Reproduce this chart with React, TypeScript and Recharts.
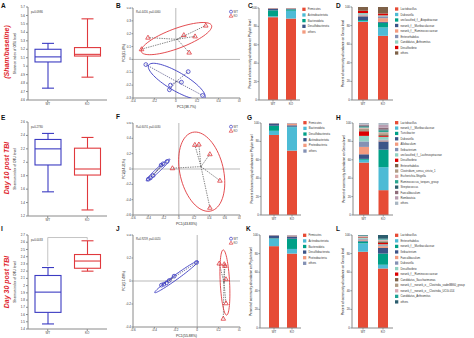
import React from "react";
import { BarChart, Bar, ComposedChart, ScatterChart, Scatter, XAxis, YAxis, ReferenceLine } from "recharts";

const FONT = "'Liberation Sans', Arial, sans-serif";
const BLUE = "#3b3bc2";
const RED = "#e0393d";
const GREY = "#8a8a8a";
const ROWRED = "#e0262e";
const NPG = ["#E64B35", "#4DBBD5", "#00A087", "#3C5488", "#F39B7F", "#8491B4", "#91D1C2", "#DC0000", "#7E6148", "#B09C85"];

const groups = ["WT", "KO"];
const boxColors = [BLUE, RED];

// ---- Shannon index box plots ----
const shamTicks = [4.6, 4.7, 4.8, 4.9, 5, 5.1, 5.2, 5.3, 5.4, 5.5, 5.6, 5.7];
const shamLow = [4.74, 4.87];
const shamQ1 = [5.05, 5.12];
const shamMedian = [5.11, 5.14];
const shamQ3 = [5.2, 5.22];
const shamHigh = [5.27, 5.56];

const d10Ticks = [1.2, 1.4, 1.6, 1.8, 2, 2.2, 2.4, 2.6];
const d10Low = [1.56, 1.29];
const d10Q1 = [1.96, 1.81];
const d10Median = [2.2, 1.9];
const d10Q3 = [2.34, 2.21];
const d10High = [2.43, 2.37];

const d30Ticks = [1.4, 1.5, 1.6, 1.7, 1.8, 1.9, 2, 2.1, 2.2, 2.3, 2.4, 2.5, 2.6, 2.7];
const d30Low = [1.47, 2.2];
const d30Q1 = [1.63, 2.24];
const d30Median = [1.91, 2.34];
const d30Q3 = [2.14, 2.43];
const d30High = [2.25, 2.62];
const d30Bracket = [2.27, 2.665, 2.635]; // WT foot, top, KO foot

// ---- PCoA ----
const bXTicks = [-0.4, -0.2, 0, 0.2, 0.4, 0.6];
const bYTicks = [-0.3, -0.2, -0.1, 0, 0.1, 0.2, 0.3, 0.4];
const bWtX = [-0.28, 0.116, 0.053, -0.05, -0.06, 0.25];
const bWtY = [-0.04, -0.095, -0.177, -0.2, -0.236, -0.28];
const bKoX = [0.28, -0.26, -0.32, 0.075, 0.18, 0.125];
const bKoY = [0.264, 0.17, 0.08, 0.19, 0.18, 0.054];
const bWtEllipse = { c: [0.009, -0.172], u: [0.2625, -0.128], v: [-0.0447, -0.0615] };
const bKoEllipse = { c: [0.006, 0.162], u: [0.328, 0.1026], v: [0.0334, -0.0718] };

const fXTicks = [-0.6, -0.4, -0.2, 0, 0.2, 0.4, 0.6, 0.8];
const fYTicks = [-0.6, -0.4, -0.2, 0, 0.2, 0.4, 0.6];
const fWtX = [-0.399, -0.372, -0.337, -0.232, -0.206, -0.154];
const fWtY = [-0.133, -0.116, -0.085, 0.05, 0.068, 0.098];
const fKoX = [0.209, 0.262, 0.406, -0.084, 0.537, 0.406];
const fKoY = [0.316, 0.321, 0.194, 0.011, -0.151, -0.504];
const fWtEllipse = { c: [-0.272, -0.013], u: [0.153, 0.142], v: [0.018, -0.019] };
const fKoEllipse = { c: [0.299, -0.035], u: [0.12, -0.513], v: [0.277, 0.065] };

const jXTicks = [-0.6, -0.4, -0.2, 0, 0.2, 0.4];
const jYTicks = [-0.4, -0.2, 0, 0.2, 0.4];
const jWtX = [-0.006, -0.216, -0.262, -0.287, -0.312, -0.334];
const jWtY = [0.161, 0.042, 0.004, -0.016, -0.028, -0.036];
const jKoX = [0.206, 0.253, 0.259, 0.269, 0.269, 0.244];
const jKoY = [0.153, 0.147, 0.132, 0.016, -0.193, -0.327];
const jWtEllipse = { c: [-0.194, 0.036], u: [0.203, 0.137], v: [0.0128, -0.0166] };
const jKoEllipse = { c: [0.259, -0.013], u: [0.0156, -0.2836], v: [0.0438, 0] };

// ---- community composition ----
const pctTicks = [0, 20, 40, 60, 80, 100];

const cTaxa = ["Firmicutes", "Actinobacteriota", "Bacteroidota", "Desulfobacterota", "others"];
const cWT = [90, 1, 6.5, 2, 0.5];
const cKO = [88.5, 8.5, 1.5, 1, 0.5];

const dTaxa = ["Lactobacillus", "Dubosiella", "unclassified_f__Atopobiaceae", "norank_f__Muribaculaceae", "norank_f__Ruminococcaceae", "Enterorhabdus", "Candidatus_Arthromitus", "Desulfovibrio", "others"];
const dWT = [84, 1, 1, 4, 1, 1, 1.5, 2.5, 4];
const dKO = [69, 9, 5, 1, 4, 2, 1, 2, 7];

const gTaxa = ["Firmicutes", "Bacteroidota", "Desulfobacterota", "Actinobacteriota", "Proteobacteria", "others"];
const gWT = [87, 4.5, 5.5, 2.5, 0.3, 0.2];
const gKO = [70, 25.5, 0.5, 1.5, 2, 0.5];

const hTaxa = ["Lactobacillus", "norank_f__Muribaculaceae", "Turicibacter", "Dubosiella", "Allobaculum", "Ileibacterium", "unclassified_f__Lachnospiraceae", "Desulfovibrio", "Enterorhabdus", "Clostridium_sensu_stricto_1", "Escherichia-Shigella", "Ruminococcus_torques_group", "Streptococcus", "Faecalibaculum", "Romboutsia", "others"];
const hWT = [57, 3, 1, 5, 8, 6, 6, 5, 1, 2, 1, 1, 1, 1, 0.5, 1.5];
const hKO = [27, 25, 19, 9, 1, 1, 3, 1, 1, 2, 1, 2, 1, 2, 3, 2];
const hColors = [...NPG, "#D7A9A9", "#2BA58F", "#2E5E6B", "#8E6C7A", "#B79CB0", "#A9B6C2"];

const kTaxa = ["Firmicutes", "Actinobacteriota", "Bacteroidota", "Desulfobacterota", "Proteobacteria", "others"];
const kWT = [88, 8, 0.5, 3, 0.3, 0.2];
const kKO = [80, 5, 11, 2.5, 1, 0.5];

const lTaxa = ["Lactobacillus", "Enterorhabdus", "norank_f__Muribaculaceae", "Ileibacterium", "Faecalibaculum", "Dubosiella", "Desulfovibrio", "norank_f__Ruminococcaceae", "Candidatus_Saccharimonas", "norank_f__norank_o__Clostridia_vadinBB60_group", "norank_f__norank_o__Clostridia_UCG-014", "Candidatus_Arthromitus", "others"];
const lWT = [82, 9, 2, 1, 1, 1, 1, 0.5, 0.5, 0.5, 0.5, 0.5, 0.5];
const lKO = [64, 4, 12, 6, 2, 1, 1, 1.5, 1.5, 1, 1, 1, 4];
const lColors = [...NPG, "#D9A8B4", "#1FA395", "#2B5D6E"];

type Rect = { l: number; t: number; r: number; b: number };
const tick = { fontSize: 3, fill: "#333", fontFamily: FONT };

function Ann({ children }: { children: React.ReactNode }) {
  return (
    <svg width={474} height={338} fontFamily={FONT} style={{ position: "absolute", left: 0, top: 0, pointerEvents: "none" }}>
      {children}
    </svg>
  );
}

function VLabel({ x, y, text, size = 3.3, fill = "#222", weight = "normal", italic = false }: any) {
  return (
    <text x={x} y={y} transform={`rotate(-90 ${x} ${y})`} textAnchor="middle" dominantBaseline="middle" fontSize={size} fill={fill} fontWeight={weight} fontStyle={italic ? "italic" : "normal"}>
      {text}
    </text>
  );
}

const boxRows = (low: number[], q1: number[], med: number[], q3: number[], high: number[]) =>
  groups.map((name, i) => ({ name, low: low[i], q1: q1[i], median: med[i], q3: q3[i], high: high[i] }));

function BoxShape(p: any) {
  const d = p.payload;
  const top = Math.min(p.y, p.y + p.height);
  const bot = Math.max(p.y, p.y + p.height);
  const py = (v: number) => bot - ((v - d.low) / (d.high - d.low)) * (bot - top);
  const c = boxColors[groups.indexOf(d.name)];
  const cx = p.x + p.width / 2;
  const cap = 6;
  return (
    <g stroke={c} strokeWidth={1.1} fill="none">
      <line x1={cx} x2={cx} y1={py(d.high)} y2={py(d.q3)} />
      <line x1={cx} x2={cx} y1={py(d.q1)} y2={py(d.low)} />
      <line x1={cx - cap} x2={cx + cap} y1={py(d.high)} y2={py(d.high)} />
      <line x1={cx - cap} x2={cx + cap} y1={py(d.low)} y2={py(d.low)} />
      <rect x={p.x} y={py(d.q3)} width={p.width} height={py(d.q1) - py(d.q3)} fill="#fff" />
      <line x1={p.x} x2={p.x + p.width} y1={py(d.median)} y2={py(d.median)} />
    </g>
  );
}

function BoxPanel({ plot, ticks, rows, pText, bracket }: { plot: Rect; ticks: number[]; rows: any[]; pText: string; bracket?: number[] }) {
  const YW = 16, XH = 8, MT = 2, MR = 2;
  const width = plot.r - plot.l + YW + MR;
  const height = plot.b - plot.t + MT + XH;
  return (
    <>
      <div style={{ position: "absolute", left: plot.l - YW, top: plot.t - MT }}>
        <ComposedChart width={width} height={height} data={rows} margin={{ top: MT, right: MR, left: 0, bottom: 0 }}>
          <XAxis dataKey="name" height={XH} tick={tick} tickSize={2} tickMargin={1} tickLine={{ stroke: GREY }} axisLine={{ stroke: GREY }} />
          <XAxis xAxisId="top" dataKey="name" orientation="top" height={0} tick={false} tickLine={false} axisLine={{ stroke: GREY }} />
          <YAxis type="number" domain={[ticks[0], ticks[ticks.length - 1]]} ticks={ticks} interval={0} width={YW} tick={tick} tickSize={2} tickMargin={1} tickLine={{ stroke: GREY }} axisLine={{ stroke: GREY }} allowDataOverflow />
          <YAxis yAxisId="right" orientation="right" domain={[0, 1]} width={0} tick={false} tickLine={false} axisLine={{ stroke: GREY }} />
          <Bar dataKey={(d: any) => [d.low, d.high]} barSize={26} shape={BoxShape} isAnimationActive={false} />
          {bracket && (
            <ReferenceLine segment={[{ x: "WT", y: bracket[0] }, { x: "WT", y: bracket[1] }]} stroke="#b5b5b5" strokeWidth={0.8} ifOverflow="visible" />
          )}
          {bracket && (
            <ReferenceLine segment={[{ x: "WT", y: bracket[1] }, { x: "KO", y: bracket[1] }]} stroke="#b5b5b5" strokeWidth={0.8} ifOverflow="visible" />
          )}
          {bracket && (
            <ReferenceLine segment={[{ x: "KO", y: bracket[1] }, { x: "KO", y: bracket[2] }]} stroke="#b5b5b5" strokeWidth={0.8} ifOverflow="visible" />
          )}
        </ComposedChart>
      </div>
      <Ann>
        <VLabel x={plot.l - 13} y={(plot.t + plot.b) / 2} text="Shannon index of OTU level" />
        <text x={plot.l + 3} y={plot.t + 5.5} fontSize={2.8} fill="#333">{pText}</text>
      </Ann>
    </>
  );
}

type Ell = { c: number[]; u: number[]; v: number[] };
type Pt = { x: number; y: number };

// confidence ellipse, drawn around the centre point it is attached to
function ellipseShape(e: Ell, kx: number, ky: number, color: string) {
  return (p: any) => {
    const pts: string[] = [];
    for (let i = 0; i <= 72; i++) {
      const t = (i / 72) * Math.PI * 2;
      const dx = (e.u[0] * Math.cos(t) + e.v[0] * Math.sin(t)) * kx;
      const dy = (e.u[1] * Math.cos(t) + e.v[1] * Math.sin(t)) * ky;
      pts.push(`${(p.cx + dx).toFixed(2)},${(p.cy - dy).toFixed(2)}`);
    }
    return <path d={`M${pts.join("L")}Z`} fill="none" stroke={color} strokeWidth={0.9} />;
  };
}

// dotted spokes from the group centroid (the point this shape sits on) to every sample
function spiderShape(centre: Pt, pts: Pt[], kx: number, ky: number, color: string) {
  return (p: any) => {
    const d = pts
      .map((q) => `M${p.cx.toFixed(2)},${p.cy.toFixed(2)}L${(p.cx + (q.x - centre.x) * kx).toFixed(2)},${(p.cy - (q.y - centre.y) * ky).toFixed(2)}`)
      .join("");
    return <path d={d} fill="none" stroke={color} strokeWidth={0.8} strokeDasharray="1.4 1" />;
  };
}

const circleShape = (p: any) => <circle cx={p.cx} cy={p.cy} r={1.9} fill="none" stroke={BLUE} strokeWidth={0.8} />;
const triangleShape = (p: any) => (
  <path d={`M${p.cx},${p.cy - 2.4}L${p.cx + 2.3},${p.cy + 1.6}L${p.cx - 2.3},${p.cy + 1.6}Z`} fill="none" stroke={RED} strokeWidth={0.8} />
);

const zip = (xs: number[], ys: number[]) => xs.map((x, i) => ({ x, y: ys[i] }));
const mean = (a: number[]) => a.reduce((s, v) => s + v, 0) / a.length;

function PcoaPanel(props: {
  plot: Rect; xTicks: number[]; yTicks: number[];
  wtX: number[]; wtY: number[]; koX: number[]; koY: number[];
  wtEll: Ell; koEll: Ell; xLabel: string; yLabel: string; stat: string;
}) {
  const { plot, xTicks, yTicks } = props;
  const YW = 10, XH = 6, MT = 1, MR = 1;
  const width = plot.r - plot.l + YW + MR;
  const height = plot.b - plot.t + MT + XH;
  const xd = [xTicks[0], xTicks[xTicks.length - 1]];
  const yd = [yTicks[0], yTicks[yTicks.length - 1]];
  const kx = (plot.r - plot.l) / (xd[1] - xd[0]);
  const ky = (plot.b - plot.t) / (yd[1] - yd[0]);
  const wt = zip(props.wtX, props.wtY);
  const ko = zip(props.koX, props.koY);
  const wtC = { x: mean(props.wtX), y: mean(props.wtY) };
  const koC = { x: mean(props.koX), y: mean(props.koY) };
  return (
    <>
      <div style={{ position: "absolute", left: plot.l - YW, top: plot.t - MT }}>
        <ScatterChart width={width} height={height} margin={{ top: MT, right: MR, left: 0, bottom: 0 }}>
          <XAxis type="number" dataKey="x" domain={xd} ticks={xTicks} interval={0} height={XH} tick={tick} tickSize={1.5} tickMargin={0.5} tickLine={{ stroke: GREY }} axisLine={{ stroke: GREY }} allowDataOverflow />
          <XAxis xAxisId="top" type="number" orientation="top" domain={xd} height={0} tick={false} tickLine={false} axisLine={{ stroke: GREY }} />
          <YAxis type="number" dataKey="y" domain={yd} ticks={yTicks} interval={0} width={YW} tick={tick} tickSize={1.5} tickMargin={0.5} tickLine={{ stroke: GREY }} axisLine={{ stroke: GREY }} allowDataOverflow />
          <YAxis yAxisId="right" type="number" orientation="right" domain={yd} width={0} tick={false} tickLine={false} axisLine={{ stroke: GREY }} />
          <ReferenceLine x={0} stroke={GREY} strokeWidth={0.6} />
          <ReferenceLine y={0} stroke={GREY} strokeWidth={0.6} />
          <Scatter name="wt-spokes" data={[{ x: wtC.x, y: wtC.y }]} shape={spiderShape(wtC, wt, kx, ky, "#5c5c8c")} isAnimationActive={false} legendType="none" />
          <Scatter name="ko-spokes" data={[{ x: koC.x, y: koC.y }]} shape={spiderShape(koC, ko, kx, ky, "#666666")} isAnimationActive={false} legendType="none" />
          <Scatter data={[{ x: props.wtEll.c[0], y: props.wtEll.c[1] }]} shape={ellipseShape(props.wtEll, kx, ky, BLUE)} isAnimationActive={false} legendType="none" />
          <Scatter data={[{ x: props.koEll.c[0], y: props.koEll.c[1] }]} shape={ellipseShape(props.koEll, kx, ky, RED)} isAnimationActive={false} legendType="none" />
          <Scatter name="WT" data={wt} shape={circleShape} isAnimationActive={false} />
          <Scatter name="KO" data={ko} shape={triangleShape} isAnimationActive={false} />
        </ScatterChart>
      </div>
      <Ann>
        <text x={(plot.l + plot.r) / 2} y={plot.b + 10} fontSize={3.5} textAnchor="middle" fill="#222">{props.xLabel}</text>
        <VLabel x={plot.l - 9} y={(plot.t + plot.b) / 2} text={props.yLabel} size={3.3} />
        <text x={plot.l + 3} y={plot.t + 4.5} fontSize={2.7} fill="#333">{props.stat}</text>
        <circle cx={plot.r - 9} cy={plot.t + 3.7} r={1.5} fill="none" stroke={BLUE} strokeWidth={0.7} />
        <text x={plot.r - 6.5} y={plot.t + 4.7} fontSize={2.8} fill="#333">WT</text>
        <path d={`M${plot.r - 9},${plot.t + 6.2}L${plot.r - 7.2},${plot.t + 9.2}L${plot.r - 10.8},${plot.t + 9.2}Z`} fill="none" stroke={RED} strokeWidth={0.7} />
        <text x={plot.r - 6.5} y={plot.t + 9} fontSize={2.8} fill="#333">KO</text>
      </Ann>
    </>
  );
}

function StackPanel(props: {
  plot: Rect; taxa: string[]; colors: string[]; wt: number[]; ko: number[];
  level: string; pad: number; legend: { x: number; y: number; step: number };
}) {
  const { plot, taxa, colors, legend } = props;
  const YW = 10, XH = 7, MT = 2, MR = 1;
  const width = plot.r - plot.l + YW + MR;
  const height = plot.b - plot.t + MT + XH;
  const rows = groups.map((name, gi) => {
    const r: Record<string, any> = { name };
    taxa.forEach((t, j) => (r[t] = (gi === 0 ? props.wt : props.ko)[j]));
    return r;
  });
  return (
    <>
      <div style={{ position: "absolute", left: plot.l - YW, top: plot.t - MT }}>
        <BarChart width={width} height={height} data={rows} margin={{ top: MT, right: MR, left: 0, bottom: 0 }}>
          <XAxis dataKey="name" height={XH} padding={{ left: props.pad, right: 0 }} tick={tick} tickSize={1.5} tickMargin={1} tickLine={{ stroke: GREY }} axisLine={{ stroke: GREY }} />
          <YAxis type="number" domain={[0, 100]} ticks={pctTicks} interval={0} width={YW} tick={tick} tickSize={1.5} tickMargin={0.5} tickLine={{ stroke: GREY }} axisLine={{ stroke: GREY }} />
          {taxa.map((t, j) => (
            <Bar key={t} dataKey={t} stackId="s" fill={colors[j]} barSize={10} isAnimationActive={false} />
          ))}
        </BarChart>
      </div>
      <Ann>
        <VLabel x={plot.l - 8.5} y={(plot.t + plot.b) / 2} text={`Percent of community abundance on ${props.level} level`} size={3.1} />
        {taxa.map((t, j) => (
          <g key={t}>
            <rect x={legend.x} y={legend.y + j * legend.step - 1.65} width={3.3} height={3.3} fill={colors[j]} />
            <text x={legend.x + 5.5} y={legend.y + j * legend.step + 1} fontSize={2.8} fill="#333">{t}</text>
          </g>
        ))}
      </Ann>
    </>
  );
}

const letters: [string, number, number][] = [
  ["A", 1, 8], ["B", 116, 8], ["C", 248, 8], ["D", 336, 8],
  ["E", 1, 120], ["F", 116, 119], ["G", 247, 120], ["H", 336, 120],
  ["I", 1, 231], ["J", 116, 231], ["K", 246, 231], ["L", 336, 231],
];
const rowLabels: [string, number][] = [["(Sham/baseline)", 52], ["Day 10 post TBI", 168], ["Day 30 post TBI", 282]];

export default function App() {
  return (
    <div style={{ position: "absolute", left: 0, top: 0, width: 474, height: 338, background: "#fff", overflow: "hidden", fontFamily: FONT }}>
      <BoxPanel plot={{ l: 28, t: 7, r: 107, b: 100 }} ticks={shamTicks} rows={boxRows(shamLow, shamQ1, shamMedian, shamQ3, shamHigh)} pText="p=0.0986" />
      <BoxPanel plot={{ l: 28, t: 122, r: 107, b: 216 }} ticks={d10Ticks} rows={boxRows(d10Low, d10Q1, d10Median, d10Q3, d10High)} pText="p=0.2780" />
      <BoxPanel plot={{ l: 28, t: 235, r: 107, b: 329 }} ticks={d30Ticks} rows={boxRows(d30Low, d30Q1, d30Median, d30Q3, d30High)} pText="p=0.0033" bracket={d30Bracket} />

      <PcoaPanel plot={{ l: 133, t: 8, r: 240, b: 98 }} xTicks={bXTicks} yTicks={bYTicks} wtX={bWtX} wtY={bWtY} koX={bKoX} koY={bKoY} wtEll={bWtEllipse} koEll={bKoEllipse} xLabel="PC1(38.7%)" yLabel="PC2(21.8%)" stat="R=0.4416, p=0.0060" />
      <PcoaPanel plot={{ l: 133, t: 123, r: 240, b: 215 }} xTicks={fXTicks} yTicks={fYTicks} wtX={fWtX} wtY={fWtY} koX={fKoX} koY={fKoY} wtEll={fWtEllipse} koEll={fKoEllipse} xLabel="PC1(43.83%)" yLabel="PC2(24.21%)" stat="R=0.6074, p=0.0030" />
      <PcoaPanel plot={{ l: 133, t: 235, r: 240, b: 327 }} xTicks={jXTicks} yTicks={jYTicks} wtX={jWtX} wtY={jWtY} koX={jKoX} koY={jKoY} wtEll={jWtEllipse} koEll={jKoEllipse} xLabel="PC1(55.88%)" yLabel="PC2(17.49%)" stat="R=0.9259, p=0.0020" />

      <StackPanel plot={{ l: 259, t: 8, r: 300, b: 100 }} taxa={cTaxa} colors={NPG} wt={cWT} ko={cKO} level="Phylum" pad={5} legend={{ x: 302.3, y: 9.3, step: 5.67 }} />
      <StackPanel plot={{ l: 352, t: 7, r: 393, b: 100 }} taxa={dTaxa} colors={NPG} wt={dWT} ko={dKO} level="Genus" pad={1} legend={{ x: 395, y: 9, step: 5.5 }} />
      <StackPanel plot={{ l: 261, t: 123, r: 301, b: 215 }} taxa={gTaxa} colors={NPG} wt={gWT} ko={gKO} level="Phylum" pad={4} legend={{ x: 303.3, y: 122.7, step: 5.67 }} />
      <StackPanel plot={{ l: 353, t: 123, r: 393, b: 215 }} taxa={hTaxa} colors={hColors} wt={hWT} ko={hKO} level="Genus" pad={1} legend={{ x: 395, y: 122.7, step: 5.37 }} />
      <StackPanel plot={{ l: 260, t: 235, r: 301, b: 328 }} taxa={kTaxa} colors={NPG} wt={kWT} ko={kKO} level="Phylum" pad={5} legend={{ x: 303, y: 235.3, step: 5.6 }} />
      <StackPanel plot={{ l: 352, t: 235, r: 393, b: 328 }} taxa={lTaxa} colors={lColors} wt={lWT} ko={lKO} level="Genus" pad={1} legend={{ x: 395, y: 235.3, step: 5.55 }} />

      <Ann>
        {letters.map(([t, x, y]) => (
          <text key={t} x={x} y={y} fontSize={6.5} fontWeight="bold" fill="#111">{t}</text>
        ))}
        {rowLabels.map(([t, y]) => (
          <VLabel key={t} x={7} y={y} text={t} size={7} fill={ROWRED} weight="bold" italic />
        ))}
      </Ann>
    </div>
  );
}
